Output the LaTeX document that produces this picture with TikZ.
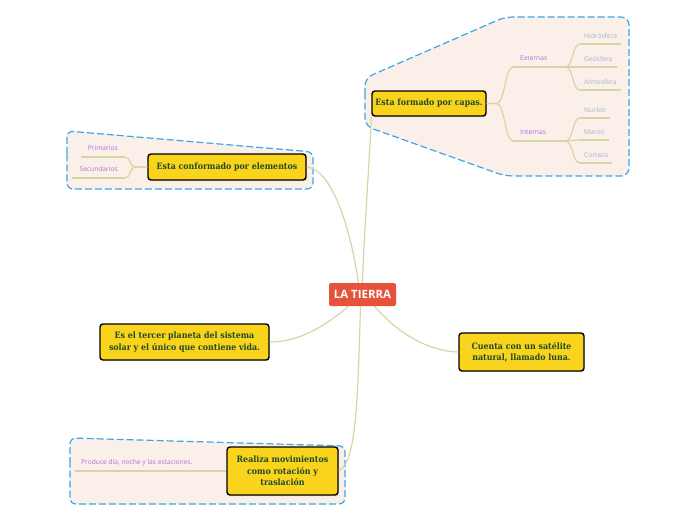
\documentclass[tikz,border=0pt]{standalone}
\usepackage{fontspec}
\setmainfont{Open Sans}
\newfontfamily\slabfont{DejaVu Serif Condensed}[BoldFont={DejaVu Serif Condensed Bold}]
\usepackage{tikz}
\usetikzlibrary{shadows}
\definecolor{tierrared}{HTML}{E5533C}
\definecolor{topicyellow}{HTML}{F9D31C}
\definecolor{topictext}{HTML}{1F4A2C}
\definecolor{stemcolor}{HTML}{D8D4A4}
\definecolor{groupfill}{HTML}{FBEFEA}
\definecolor{groupline}{HTML}{3AA8E6}
\definecolor{subpurple}{HTML}{B46FD8}
\definecolor{leafblue}{HTML}{A7B6D0}
\tikzstyle{root} = [rectangle, fill=tierrared, rounded corners=2bp, text=white, font=\bfseries\fontsize{11.5}{13}\selectfont, minimum width=67bp, minimum height=23bp, inner sep=0pt]
\tikzstyle{topic} = [rectangle, draw=black, line width=1.4bp, fill=topicyellow, rounded corners=3bp, text=topictext, font=\slabfont\bfseries\fontsize{8.8}{11.5}\selectfont, align=center, inner sep=0pt, drop shadow={shadow xshift=0.8pt, shadow yshift=-1.2pt, opacity=0.25}]
\tikzstyle{sub} = [text=subpurple, font=\fontsize{6.7}{8}\selectfont, text height=5bp, text depth=2bp, inner xsep=7bp, inner ysep=4.5bp]
\tikzstyle{leaf} = [text=leafblue, font=\fontsize{6.7}{8}\selectfont, text height=5bp, text depth=2bp, inner xsep=4bp, inner ysep=3.5bp]
\tikzstyle{stem} = [draw=stemcolor, line width=1.2bp]
\tikzstyle{underline} = [draw=stemcolor, line width=1.6bp]
\tikzstyle{group} = [fill=groupfill, draw=groupline, line width=1.2bp, dash pattern=on 7bp off 3bp, rounded corners=8bp]

\begin{document}
\begin{tikzpicture}[x=1bp, y=-1bp]
\useasboundingbox (0,0) rectangle (696,520);
% groups behind the topics
\draw [group] (365,103) -- (365,78) -- (505,17) -- (629,17) -- (629,176) -- (505,176) -- (365,126) -- cycle;
\draw [group, rounded corners=6bp] (67,160) -- (67,131) -- (313,152) -- (313,189) -- (67,189) -- cycle;
\draw [group, rounded corners=6bp] (70,470) -- (70,438) -- (345,446) -- (345,504) -- (70,504) -- cycle;

\node [root] at (362.5,294.5) (tierra) {LA TIERRA};
\node [topic, minimum width=114bp, minimum height=25bp] at (429,103.5) (capas) {Esta formado por capas.};
\node [topic, minimum width=158bp, minimum height=26bp] at (227,167) (elementos) {Esta conformado por elementos};
\node [topic, minimum width=169bp, minimum height=36bp] at (184.5,342) (planeta)
	{Es el tercer planeta del sistema\\solar y el único que contiene vida.};
\node [topic, minimum width=125bp, minimum height=38bp] at (521.5,352) (satelite)
	{Cuenta con un satélite\\natural, llamado luna.};
\node [topic, minimum width=111bp, minimum height=48bp] at (282.5,471) (movimientos)
	{Realiza movimientos\\como rotación y\\traslación};

% capas
\node [sub, anchor=south west, text width=38bp] at (513,67) (externas) {Externas};
\node [sub, anchor=south west, text width=38bp] at (513,141) (internas) {Internas};
\node [leaf, anchor=south west] at (580,44) (hidrosfera) {Hidrósfera};
\node [leaf, anchor=south west] at (580,67) (geosfera) {Geósfera};
\node [leaf, anchor=south west] at (580,90) (atmosfera) {Atmosfera};
\node [leaf, anchor=south west] at (580,118) (nucleo) {Nucleo};
\node [leaf, anchor=south west] at (580,140) (manto) {Manto};
\node [leaf, anchor=south west] at (580,163) (corteza) {Corteza};
% elementos
\node [sub, anchor=south east] at (125,157) (primarios) {Primarios};
\node [sub, anchor=south east] at (125,178) (secundarios) {Secundarios};
% movimientos
\node [sub, anchor=south west, inner xsep=6bp] at (75,471) (estaciones) {Produce día, noche y las estaciones.};

% main stems
\draw [stem] (tierra.north) .. controls +(2,-60) and +(-2,50) .. (capas.south west);
\draw [stem] ([xshift=-4bp]tierra.north) .. controls +(-8,-55) and +(25,2) .. (elementos.east);
\draw [stem] ([xshift=-14bp]tierra.south) .. controls +(-28,24) and +(26,0) .. (planeta.east);
\draw [stem] ([xshift=-2bp]tierra.south) .. controls +(-3,94) and +(18,-9) .. (movimientos.east);
\draw [stem] ([xshift=12bp]tierra.south) .. controls +(25,29) and +(-29,-1) .. (satelite.west);

% branch stems
\draw [stem] (capas.east) -- ++(10,0) .. controls +(8,0) and +(-8,0) .. (externas.south west);
\draw [stem] (capas.east) -- ++(10,0) .. controls +(8,0) and +(-8,0) .. (internas.south west);
\draw [underline] (externas.south west) -- (externas.south east);
\draw [underline] (internas.south west) -- (internas.south east);
\foreach \leafname in {hidrosfera, geosfera, atmosfera} {
	\draw [stem] (externas.south east) .. controls +(8,0) and +(-8,0) .. (\leafname.south west);
	\draw [underline] (\leafname.south west) -- (\leafname.south east);
}
\foreach \leafname in {nucleo, manto, corteza} {
	\draw [stem] (internas.south east) .. controls +(8,0) and +(-8,0) .. (\leafname.south west);
	\draw [underline] (\leafname.south west) -- (\leafname.south east);
}
\foreach \leafname in {primarios, secundarios} {
	\draw [stem] (elementos.west) -- ++(-12,0) .. controls +(-6,0) and +(6,0) .. (\leafname.south east);
	\draw [underline] (\leafname.south west) -- (\leafname.south east);
}
\draw [underline] (estaciones.south west) -- (movimientos.west);
\end{tikzpicture}
\end{document}
